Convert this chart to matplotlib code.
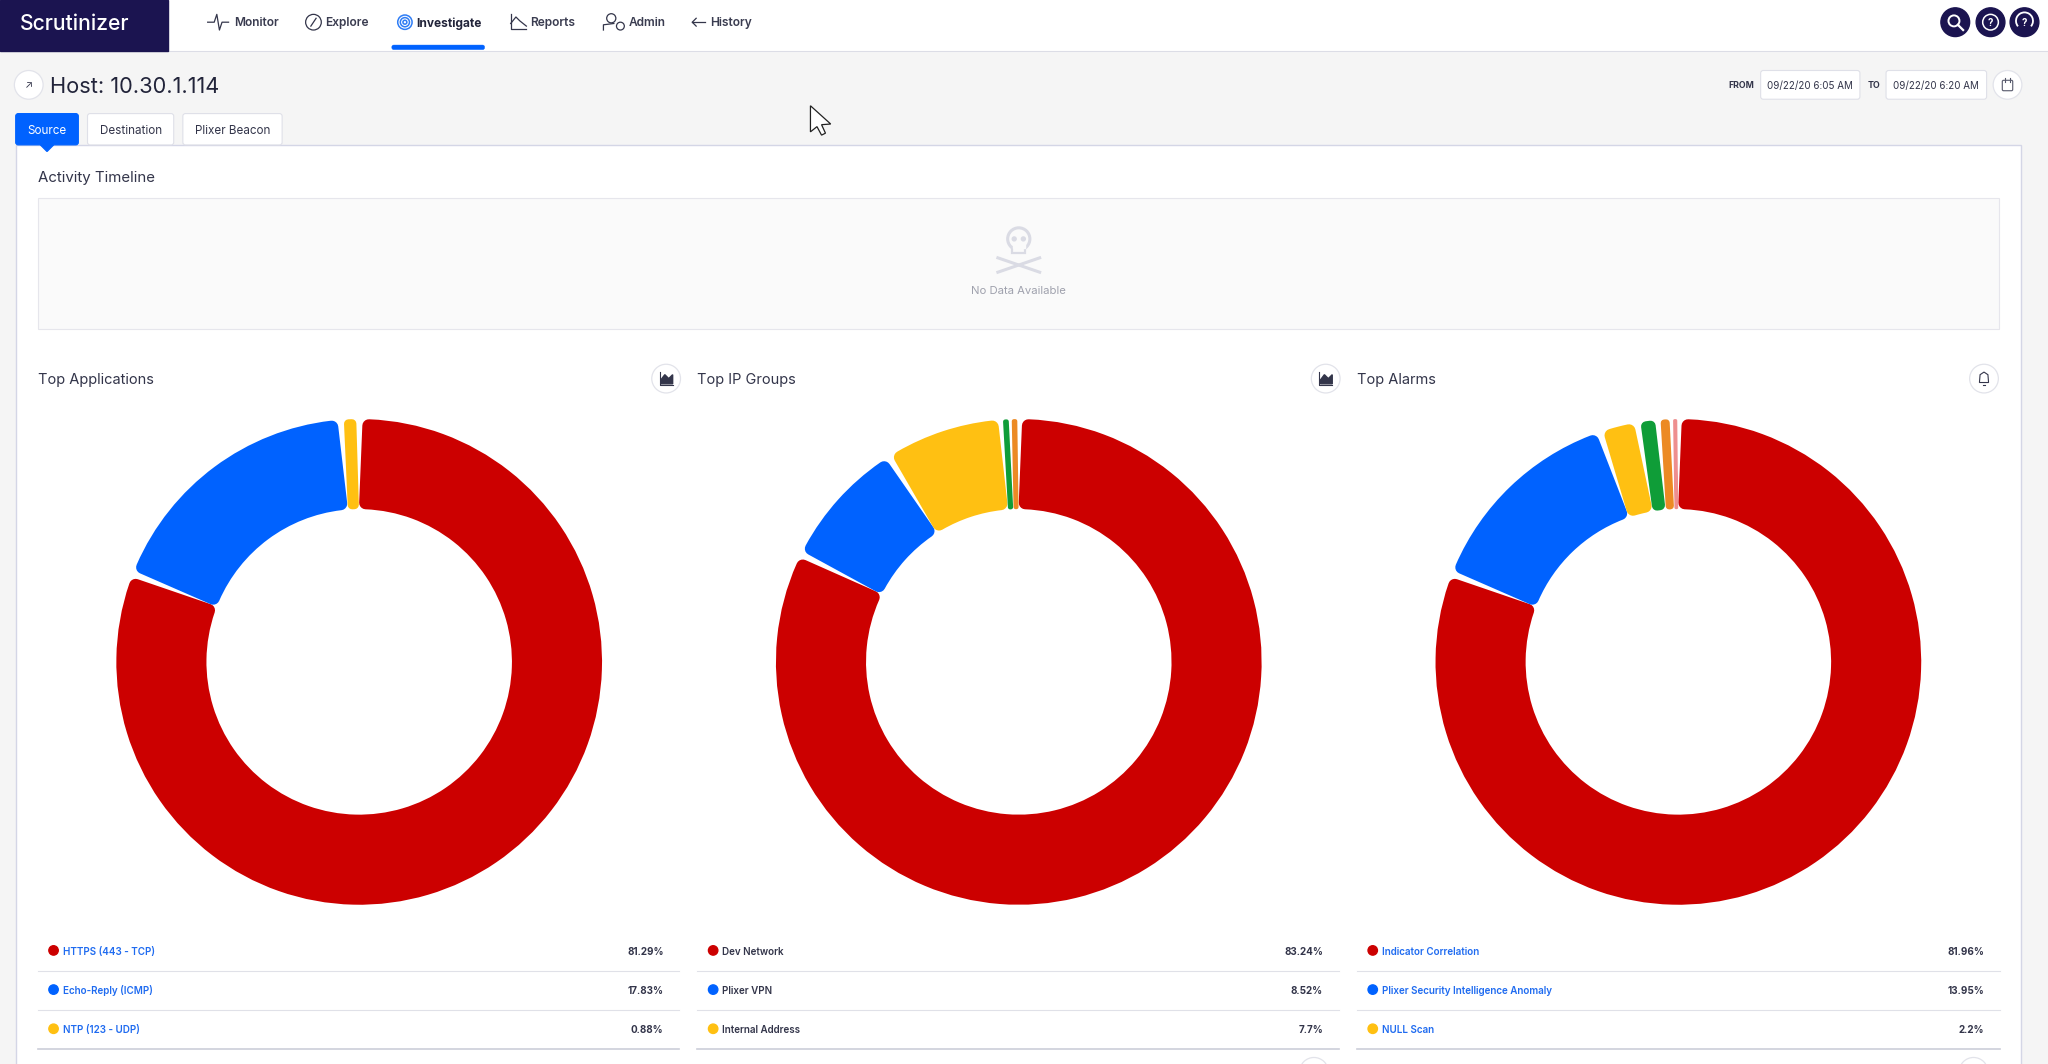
#!/usr/bin/env python3
"""Scrutinizer host page: three donut panels with legend tables."""

import math

import matplotlib
matplotlib.use("Agg")
import matplotlib.pyplot as plt
from matplotlib.patches import Arc, Circle, FancyBboxPatch, Polygon, Rectangle

plt.rcParams["font.family"] = ["Inter", "DejaVu Sans"]

W, H = 1568, 815  # layout units, saved at 2048x1064

RED = "#cc0000"
BLUE = "#0062ff"
YELLOW = "#ffc012"
GREEN = "#0f9d38"
ORANGE = "#ec8a24"
PINK = "#ee8f8f"
NAVY = "#1b1450"
LINK = "#1f6bf0"
INK = "#33354a"
RULE = "#d8dae6"

titles = ["Top Applications", "Top IP Groups", "Top Alarms"]

# slice sizes as drawn in the picture, they differ a little from the printed percentages
app_values = [80.9, 17.9, 1.2]
ip_values = [82.3, 8.7, 7.86, 0.58, 0.56]
alarm_values = [80.9, 13.85, 2.55, 1.37, 0.91, 0.42]

app_labels = ["HTTPS (443 - TCP)", "Echo-Reply (ICMP)", "NTP (123 - UDP)"]
ip_labels = ["Dev Network", "Plixer VPN", "Internal Address"]
alarm_labels = ["Indicator Correlation", "Plixer Security Intelligence Anomaly", "NULL Scan"]

app_shown = ["81.29%", "17.83%", "0.88%"]
ip_shown = ["83.24%", "8.52%", "7.7%"]
alarm_shown = ["81.96%", "13.95%", "2.2%"]

slice_colors = [RED, BLUE, YELLOW, GREEN, ORANGE, PINK]
nav_items = ["Monitor", "Explore", "Investigate", "Reports", "Admin", "History"]
tabs = ["Source", "Destination", "Plixer Beacon"]


def round_box(ax, x0, y0, x1, y1, face="white", edge=RULE, rad=2, lw=0.8, z=2):
    ax.add_patch(FancyBboxPatch((x0, y0), x1 - x0, y1 - y0, boxstyle=f"round,pad=0,rounding_size={rad}",
                                facecolor=face, edgecolor=edge, linewidth=lw, zorder=z))


def icon_circle(ax, x, y, r=11, face="white", edge="#e2e3ea"):
    ax.add_patch(Circle((x, y), r, facecolor=face, edgecolor=edge, linewidth=0.9, zorder=3))


def donut(fig, cx, cy, values):
    radius, ring = 186, 69
    box = 190
    ax = fig.add_axes([(cx - box) / W, (H - cy - box) / H, 2 * box / W, 2 * box / H], zorder=4)
    wedges, _ = ax.pie(values, colors=slice_colors, startangle=90, counterclock=False,
                       radius=radius, wedgeprops={"width": ring})
    ax.set_xlim(-box, box)
    ax.set_ylim(-box, box)
    ax.set_aspect("equal")
    mid = radius - ring / 2
    # shrink each wedge and stroke it in its own colour, which rounds the corners
    for wedge in wedges:
        span = wedge.theta2 - wedge.theta1
        arc = math.radians(span) * mid
        rnd = min(5.0, arc * 0.3)
        gap = min(1.2, arc * 0.12)
        trim = math.degrees((rnd + gap) / mid)
        wedge.set_theta1(wedge.theta1 + trim)
        wedge.set_theta2(wedge.theta2 - trim)
        wedge.set_radius(radius - rnd)
        wedge.set_width(ring - 2 * rnd)
        wedge.set_edgecolor(wedge.get_facecolor())
        wedge.set_linewidth(2 * rnd * 2048 / W * 72 / 100)
        wedge.set_joinstyle("round")


def legend(ax, x0, x1, labels, shown, label_color):
    for i, (label, value) in enumerate(zip(labels, shown)):
        y = 728 + 30 * i
        ax.add_patch(Circle((x0 + 12, y), 3.6, color=slice_colors[i], zorder=3))
        ax.text(x0 + 19, y + 1, label, color=label_color, fontsize=7.1, fontweight="semibold", va="center", zorder=3)
        ax.text(x1 - 12, y + 1, value, color=INK, fontsize=7.1, fontweight="bold", ha="right", va="center", zorder=3)
        last = i == len(labels) - 1
        ax.plot([x0, x1], [y + 15.5, y + 15.5], color="#ccced9" if last else "#e0e1e8", lw=1.2 if last else 0.8, zorder=3)


def nav_icon(ax, name, x, y):
    kw = {"color": INK, "lw": 0.9, "zorder": 3}
    if name == "Monitor":
        ax.plot([x - 8, x - 3, x - 1, x + 1, x + 3, x + 8], [y, y, y - 6, y + 6, y, y], **kw)
    elif name == "Explore":
        ax.add_patch(Circle((x, y), 6, fill=False, ec=INK, lw=0.9, zorder=3))
        ax.plot([x - 2, x + 2], [y + 3, y - 3], **kw)
    elif name == "Investigate":
        for r in (1.5, 3.5, 5.5):
            ax.add_patch(Circle((x, y), r, fill=False, ec="#2f7df5", lw=1.1, zorder=3))
    elif name == "Reports":
        ax.plot([x - 6, x - 6, x + 6], [y - 6, y + 5, y + 5], **kw)
        ax.plot([x - 6, x - 2, x + 1, x + 6], [y + 1, y - 4, y - 1, y + 3], **kw)
    elif name == "Admin":
        ax.add_patch(Circle((x - 2, y - 3), 3.5, fill=False, ec=INK, lw=0.9, zorder=3))
        ax.add_patch(Circle((x + 5, y + 3), 3, fill=False, ec=INK, lw=0.9, zorder=3))
        ax.plot([x - 8, x - 8, x], [y + 6, y + 2, y + 1], **kw)
    else:
        ax.plot([x - 5, x + 5], [y, y], **kw)
        ax.plot([x - 2, x - 5, x - 2], [y - 3, y, y + 3], **kw)


def top_buttons(ax):
    for x in [1497, 1524, 1550]:
        ax.add_patch(Circle((x, 17), 11, color=NAVY, zorder=3))
    ax.add_patch(Circle((1496, 16), 4.2, fill=False, ec="white", lw=1.4, zorder=4))
    ax.plot([1499, 1503], [19, 23], color="white", lw=1.6, zorder=4)
    ax.add_patch(Circle((1524, 17), 6, fill=False, ec="white", lw=1.1, zorder=4))
    ax.text(1524, 17.5, "?", color="white", fontsize=7, fontweight="bold", ha="center", va="center", zorder=4)
    ax.add_patch(Arc((1550, 16), 13, 13, theta1=-220, theta2=40, ec="white", lw=1.3, zorder=4))
    ax.text(1550, 17.5, "?", color="white", fontsize=7, fontweight="bold", ha="center", va="center", zorder=4)


def draw_page(ax):
    ax.add_patch(Rectangle((0, 0), W, H, color="#f5f5f5", zorder=0))

    # top bar
    ax.add_patch(Rectangle((0, 0), W, 39, color="white", zorder=1))
    ax.plot([0, W], [39, 39], color="#dcdde6", lw=0.8, zorder=2)
    ax.add_patch(Rectangle((0, 0), 129, 39, color=NAVY, zorder=2))
    ax.text(15, 18.5, "Scrutinizer", color="white", fontsize=15.2, fontweight="medium", va="center", zorder=3)

    icon_x = [167, 240, 310, 397, 470, 535]
    text_x = [179, 249, 319, 406, 481, 544]
    for name, ix, tx in zip(nav_items, icon_x, text_x):
        nav_icon(ax, name, ix, 17)
        ax.text(tx, 18, name, color="#22243a" if name == "Investigate" else "#3a3c50", fontsize=8.6,
                fontweight="bold" if name == "Investigate" else "semibold", va="center", zorder=3)
    round_box(ax, 300, 34.5, 371, 38, face=BLUE, edge=BLUE, rad=1.5, lw=0.3, z=3)
    top_buttons(ax)

    # host heading and date range
    icon_circle(ax, 22, 65)
    ax.text(22, 65, "↗", color=INK, fontsize=7.5, ha="center", va="center", zorder=4)
    ax.text(38, 66.5, "Host: 10.30.1.114", color="#22243a", fontsize=15.7, va="center", zorder=3)

    ax.text(1333, 65.5, "FROM", color=INK, fontsize=6.3, fontweight="bold", ha="center", va="center", zorder=3)
    ax.text(1435, 65.5, "TO", color=INK, fontsize=6.3, fontweight="bold", ha="center", va="center", zorder=3)
    for x0, x1, stamp in [(1348, 1424, "09/22/20 6:05 AM"), (1444, 1521, "09/22/20 6:20 AM")]:
        round_box(ax, x0, 54, x1, 76, edge="#dfe0e8")
        ax.text((x0 + x1) / 2, 66, stamp, color=INK, fontsize=7.1, ha="center", va="center", zorder=3)
    icon_circle(ax, 1537, 65)
    round_box(ax, 1533, 61.5, 1541, 69.5, face="white", edge="#55576a", rad=1, z=4)
    ax.plot([1535, 1535], [60, 63], color="#55576a", lw=0.8, zorder=5)
    ax.plot([1539, 1539], [60, 63], color="#55576a", lw=0.8, zorder=5)

    # tabs and main panel
    ax.add_patch(Rectangle((12, 111), 1535, 720, facecolor="white", edgecolor="#d4d6e6", linewidth=1, zorder=1))
    for (x0, x1), name in zip([(12, 60), (67, 133), (140, 216)], tabs):
        active = name == "Source"
        round_box(ax, x0, 87, x1, 111, face=BLUE if active else "white", edge=BLUE if active else "#dfe0e8")
        ax.text((x0 + x1) / 2, 100, name, color="white" if active else INK, fontsize=8.4, ha="center", va="center", zorder=3)
    ax.add_patch(Polygon([[31, 111], [41, 111], [36, 116]], color=BLUE, zorder=3))

    # empty activity timeline
    ax.text(29, 136, "Activity Timeline", color=INK, fontsize=10.8, va="center", zorder=3)
    ax.add_patch(Rectangle((29, 152), 1501.5, 100, facecolor="#fafafa", edgecolor="#e6e6ec", linewidth=0.8, zorder=2))
    skull = "#dadbe4"
    ax.add_patch(Circle((780, 183), 8.5, facecolor="#fafafa", edgecolor=skull, lw=2.2, zorder=3))
    ax.add_patch(Rectangle((775, 189), 10, 5, facecolor="#fafafa", edgecolor=skull, lw=1.6, zorder=4))
    ax.add_patch(Rectangle((775.5, 187), 9, 3, color="#fafafa", zorder=5))
    ax.add_patch(Circle((776.5, 183), 1.5, color=skull, zorder=5))
    ax.add_patch(Circle((783.5, 183), 1.5, color=skull, zorder=5))
    ax.plot([764, 796], [197.5, 208.5], color=skull, lw=2.2, zorder=3)
    ax.plot([764, 796], [208.5, 197.5], color=skull, lw=2.2, zorder=3)
    ax.text(780, 223, "No Data Available", color="#9fa1ad", fontsize=8.1, ha="center", va="center", zorder=3)

    # panel headings
    for x, title in zip([29, 534, 1039], titles):
        ax.text(x, 291, title, color=INK, fontsize=10.5, va="center", zorder=3)
    for x, glyph in zip([510, 1015, 1519], ["chart", "chart", "bell"]):
        icon_circle(ax, x, 290)
        if glyph == "chart":
            ax.plot([x - 5, x - 5, x + 5], [285, 295, 295], color=INK, lw=0.8, zorder=4)
            ax.add_patch(Polygon([[x - 4, 294], [x - 4, 291], [x - 1, 287], [x + 2, 290], [x + 5, 287], [x + 5, 294]],
                                 color=INK, zorder=4))
        else:
            ax.add_patch(Polygon([[x - 3.5, 293], [x - 3, 287], [x, 285], [x + 3, 287], [x + 3.5, 293]],
                                 fill=False, ec=INK, lw=0.8, zorder=4))
            ax.plot([x - 1, x + 1], [295, 295], color=INK, lw=0.8, zorder=4)

    legend(ax, 29, 520, app_labels, app_shown, LINK)
    legend(ax, 534, 1025, ip_labels, ip_shown, INK)
    legend(ax, 1039, 1531, alarm_labels, alarm_shown, LINK)
    icon_circle(ax, 1006, 821)
    icon_circle(ax, 1511, 821)

    # mouse pointer
    ax.add_patch(Polygon([[620.5, 81], [620.5, 101], [625.5, 97], [629, 103.5], [632, 102], [629, 95.5], [636, 95]],
                         facecolor="white", edgecolor="#222222", linewidth=0.9, zorder=5))


def main():
    fig = plt.figure(figsize=(20.48, 10.64), dpi=100)
    page = fig.add_axes([0, 0, 1, 1], zorder=1)
    page.set_xlim(0, W)
    page.set_ylim(H, 0)
    page.axis("off")
    draw_page(page)

    donut(fig, 275, 507, app_values)
    donut(fig, 780, 507, ip_values)
    donut(fig, 1285, 507, alarm_values)

    fig.savefig("out.png", dpi=100)
    plt.close(fig)


if __name__ == "__main__":
    main()
